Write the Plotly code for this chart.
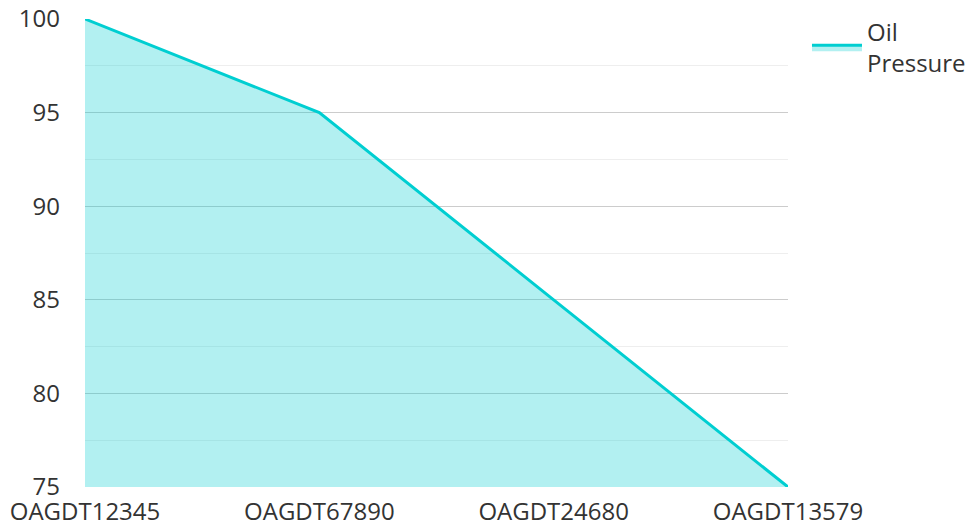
import plotly.graph_objects as go

categories = ["OAGDT12345", "OAGDT67890", "OAGDT24680", "OAGDT13579"]
oil_pressure = [100, 95, 85, 75]
y_ticks = [75, 80, 85, 90, 95, 100]

fig = go.Figure()
fig.add_trace(go.Scatter(
    x=list(range(len(categories))), y=oil_pressure, mode="lines",
    name="Oil<br>Pressure", fill="tozeroy",
    line=dict(color="#00CED1", width=3),
    fillcolor="rgba(0,206,209,0.3)",
))
fig.update_layout(
    width=974, height=526,
    margin=dict(l=77, r=194, t=11, b=47, autoexpand=False),
    paper_bgcolor="white", plot_bgcolor="white",
    font=dict(family="Open Sans", size=24, color="#333"),
    showlegend=True,
    legend=dict(x=1.027, y=1.02, xanchor="left", yanchor="top", itemwidth=50,
                font=dict(size=24, color="#333"), bgcolor="rgba(0,0,0,0)"),
    xaxis=dict(tickmode="array", tickvals=list(range(len(categories))), ticktext=categories,
               range=[0, 3], showgrid=False, zeroline=False, showline=False, ticks="",
               tickfont=dict(size=24), automargin=False, ticklabelstandoff=8,
               ticklabeloverflow="allow"),
    yaxis=dict(range=[75, 100], tickvals=y_ticks, showgrid=True, gridcolor="#ccc", gridwidth=1,
               zeroline=False, showline=False, ticks="", automargin=False,
               tickfont=dict(size=24), ticklabelstandoff=24, ticklabeloverflow="allow",
               minor=dict(dtick=2.5, showgrid=True, gridcolor="#eee", gridwidth=1)),
)
fig.write_html("out.html")
